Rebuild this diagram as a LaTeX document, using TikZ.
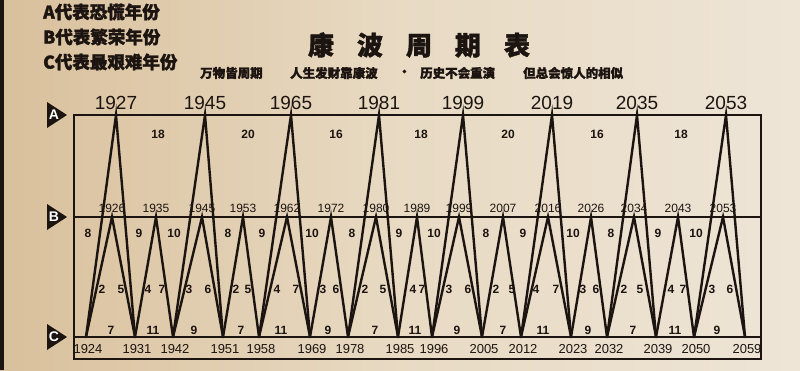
\documentclass[tikz,border=0pt]{standalone}
\usepackage{fontspec}
\setmainfont{Liberation Sans}
\newfontfamily\cjk[BoldFeatures={FakeBold=1.6}]{Noto Sans CJK SC}
\definecolor{ink}{HTML}{1C1410}
\definecolor{bgL}{HTML}{D9C09C}
\definecolor{bgM}{HTML}{E8DAC3}
\definecolor{bgR}{HTML}{EEE5D7}
\begin{document}
\begin{tikzpicture}[x=1pt,y=-1pt,
  zig/.style={draw=ink,line width=2.4pt,line join=miter,line cap=round},
  frame/.style={draw=ink,line width=1.4pt},
  marker/.style={fill=ink},
  mletter/.style={text=white,font=\bfseries\fontsize{14}{14}\selectfont,inner sep=0pt},
  ayear/.style={text=ink,font=\fontsize{19}{19}\selectfont,inner sep=0pt},
  byear/.style={text=ink,font=\fontsize{12}{12}\selectfont,inner sep=0pt},
  cyear/.style={text=ink,font=\fontsize{13}{13}\selectfont,inner sep=0pt},
  num/.style={text=ink,font=\bfseries\fontsize{12}{12}\selectfont,inner sep=0pt},
  legend/.style={text=ink,font=\cjk\bfseries\fontsize{17.5}{17.5}\selectfont,inner sep=0pt,anchor=west},
  sub/.style={text=ink,font=\cjk\bfseries\fontsize{12.5}{12.5}\selectfont,inner sep=0pt,anchor=west},
  ttl/.style={text=ink,font=\cjk\bfseries\fontsize{26}{26}\selectfont,inner sep=0pt}
]
% background
\shade[left color=bgL,right color=bgR,middle color=bgM] (0,0) rectangle (800,370);
\fill[ink] (0,0) rectangle (4,370);
\useasboundingbox (0,0) rectangle (800,370);

% legend and title
\node[legend] (legA) at (43,12) {A代表恐慌年份};
\node[legend] (legB) at (43,37) {B代表繁荣年份};
\node[legend] (legC) at (43,62) {C代表最艰难年份};
\node[ttl] (title) at (419,45) {康\hspace{23pt}波\hspace{23pt}周\hspace{23pt}期\hspace{23pt}表};
\node[sub] (s1) at (200,73) {万物皆周期};
\node[sub] (s2) at (290,73) {人生发财靠康波};
\node[sub] (s3) at (398,73) {·};
\node[sub] (s4) at (420,73) {历史不会重演};
\node[sub] (s5) at (523,73) {但总会惊人的相似};

% frame
\coordinate (fTL) at (74,115);
\coordinate (fBR) at (761,359);
\coordinate (bL) at (74,217);
\coordinate (bR) at (761,217);
\coordinate (cL) at (74,337);
\coordinate (cR) at (761,337);
\draw[frame] (fTL) rectangle (fBR);
\draw[frame] (bL) -- (bR);
\draw[frame] (cL) -- (cR);

% markers
\foreach \n/\y in {A/115,B/217,C/337}{
  \fill[marker] (47,\y-13) -- (67,\y) -- (47,\y+13) -- cycle;
  \node[mletter] (m\n) at (54,\y) {\n};
}

% C points
\foreach \x [count=\i] in {86,135,173,223,259,310,348,398,432,482,521,571,607,656,694,745}{
  \coordinate (C\i) at (\x,337);
}
\foreach \x/\yr [count=\i] in {86/1924,135/1931,173/1942,223/1951,259/1958,310/1969,348/1978,398/1985,432/1996,482/2005,521/2012,571/2023,607/2032,656/2039,694/2050,745/2059}{
  \node[cyear] (cy\i) at (\x+2,349) {\yr};
}

% B peaks
\foreach \x/\yr [count=\i] in {112/1926,156/1935,202/1945,243/1953,287/1962,331/1972,376/1980,417/1989,459/1999,503/2007,548/2016,591/2026,634/2034,678/2043,723/2053}{
  \coordinate (B\i) at (\x,217);
  \pgfmathtruncatemacro\j{\i+1}
  \draw[zig] (C\i) -- (B\i) -- (C\j);
  \node[byear] (by\i) at (\x,208) {\yr};
}

% A peaks
\foreach \x/\yr/\i [count=\k] in {116/1927/1,205/1945/3,291/1965/5,379/1981/7,463/1999/9,552/2019/11,637/2035/13,726/2053/15}{
  \coordinate (A\k) at (\x,115);
  \pgfmathtruncatemacro\j{\i+1}
  \draw[zig] (C\i) -- (A\k) -- (C\j);
  \node[ayear] (ay\k) at (\x,103) {\yr};
}

% top region numbers
\foreach \x/\v [count=\i] in {158/18,248/20,336/16,421/18,508/20,597/16,681/18}{
  \node[num] (t\i) at (\x,134) {\v};
}
% B region numbers
\foreach \x/\v [count=\i] in {88/8,139/9,174/10,228/8,262/9,312/10,352/8,399/9,434/10,486/8,523/9,573/10,611/8,658/9,696/10}{
  \node[num] (u\i) at (\x,233) {\v};
}
% middle numbers
\foreach \x/\v [count=\i] in {102/2,121/5,148/4,162/7,189/3,208/6,236/2,248/5,277/4,296/7,323/3,336/6,365/2,383/5,413/4,422/7,449/3,468/6,496/2,512/5,536/4,556/7,583/3,596/6,624/2,640/5,671/4,683/7,712/3,730/6}{
  \node[num] (w\i) at (\x,289) {\v};
}
% bottom numbers
\foreach \x/\v [count=\i] in {111/7,153/11,194/9,241/7,281/11,328/9,375/7,415/11,457/9,503/7,543/11,588/9,633/7,675/11,717/9}{
  \node[num] (v\i) at (\x,330) {\v};
}
\end{tikzpicture}
\end{document}
